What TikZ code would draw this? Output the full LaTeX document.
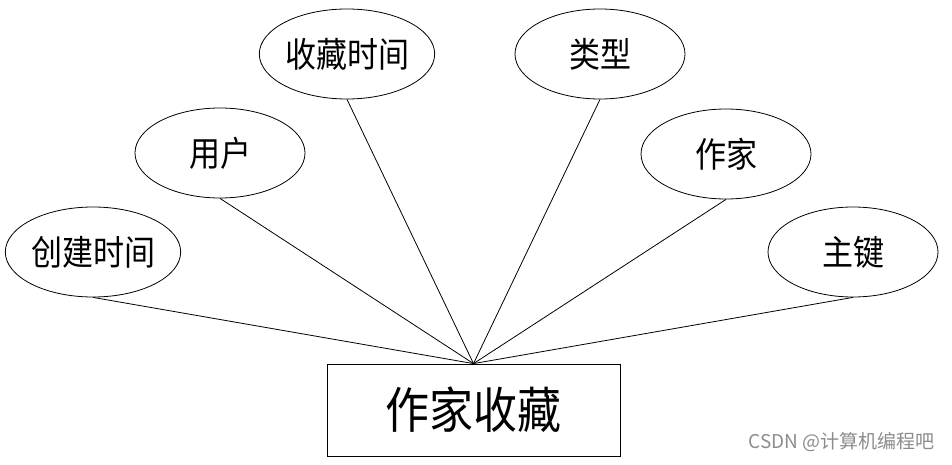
\documentclass[tikz,border=0pt]{standalone}
\usepackage{fontspec}
\usepackage{tikz}
\usetikzlibrary{shapes.geometric}
\newfontfamily\cjk{Noto Sans CJK SC}
\newcommand{\tall}[1]{\scalebox{1}[1.12]{#1}}

\begin{document}
\begin{tikzpicture}[x=1pt, y=-1pt,
  attr/.style={draw, ellipse, line width=0.8pt, inner sep=0pt,
    minimum width=170pt, minimum height=90pt,
    font=\cjk\fontsize{31}{31}\selectfont},
  entity/.style={draw, rectangle, line width=0.8pt, inner sep=0pt,
    minimum width=293pt, minimum height=92pt,
    font=\cjk\fontsize{44}{44}\selectfont},
  link/.style={line width=0.8pt}]
  \useasboundingbox (0,0) rectangle (952,465);

  % entity
  \node[entity] (fav) at (473.5, 410) {\tall{作家收藏}};

  % attributes
  \node[attr] (ctime) at (93, 252) {\tall{创建时间}};
  \node[attr] (user) at (220, 153) {\tall{用户}};
  \node[attr] (ftime) at (347, 54) {\tall{收藏时间}};
  \node[attr] (type) at (600, 54) {\tall{类型}};
  \node[attr] (writer) at (726, 154) {\tall{作家}};
  \node[attr] (pkey) at (853, 252) {\tall{主键}};

  % links
  \draw[link] (ctime.south) -- (fav.north);
  \draw[link] (user.south) -- (fav.north);
  \draw[link] (ftime.south) -- (fav.north);
  \draw[link] (type.south) -- (fav.north);
  \draw[link] (writer.south) -- (fav.north);
  \draw[link] (pkey.south) -- (fav.north);

  % watermark
  \node[anchor=east, text=black!45, font=\cjk\fontsize{19}{19}\selectfont] (mark) at (938, 442) {CSDN @计算机编程吧};
\end{tikzpicture}
\end{document}
